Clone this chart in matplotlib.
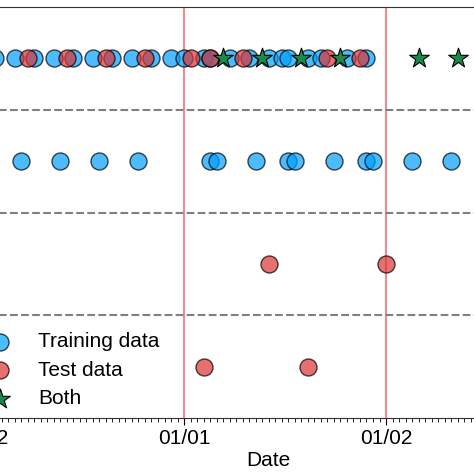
import numpy as np
import pandas as pd
import matplotlib
matplotlib.use("Agg")
import matplotlib.pyplot as plt
import matplotlib.dates as mdates

plt.rcParams['font.family'] = ['Liberation Sans', 'DejaVu Sans']

# rows from top (3) to bottom (0)
row_levels = [3, 2, 1, 0]

# training data per row
train_row3 = ['2019-12-03', '2019-12-06', '2019-12-09', '2019-12-12', '2019-12-15',
              '2019-12-18', '2019-12-21', '2019-12-24', '2019-12-27', '2019-12-30',
              '2020-01-01', '2020-01-04', '2020-01-05', '2020-01-08', '2020-01-11',
              '2020-01-14', '2020-01-16', '2020-01-17', '2020-01-20', '2020-01-22',
              '2020-01-26', '2020-01-29']
train_row2 = ['2019-12-07', '2019-12-13', '2019-12-19', '2019-12-25', '2020-01-05',
              '2020-01-06', '2020-01-12', '2020-01-17', '2020-01-18', '2020-01-24',
              '2020-01-29', '2020-01-30', '2020-02-05', '2020-02-11']

# test data per row
test_row3 = ['2019-12-08', '2019-12-14', '2019-12-20', '2019-12-26', '2020-01-02',
             '2020-01-05', '2020-01-10', '2020-01-23', '2020-01-28']
test_row1 = ['2020-01-14', '2020-02-01']
test_row0 = ['2020-01-04', '2020-01-20']

# both
both_row3 = ['2020-01-07', '2020-01-13', '2020-01-19', '2020-01-25', '2020-02-06',
             '2020-02-12']

month_lines = ['2020-01-01', '2020-02-01']
separators = [2.5, 1.5, 0.5]


def to_num(dates):
    return mdates.date2num(pd.to_datetime(dates))


def main():
    fig = plt.figure(figsize=(4.74, 4.74), dpi=100)
    # the reference is a crop of a wider figure: axes runs past both edges
    ax = fig.add_axes([-0.189, 0.1181, 1.512, 0.867])

    for d in month_lines:
        ax.axvline(to_num([d])[0], color='#f08a90', lw=1.5, zorder=1)
    for y in separators:
        ax.axhline(y, color='#808080', lw=1.5, ls='--', zorder=1)

    blue = '#00a0ff'
    red = '#dc3232'
    s = 150
    ax.scatter(to_num(train_row3), [3] * len(train_row3), s=s, color=blue,
               alpha=0.7, edgecolor='k', lw=1, zorder=3, label='Training data')
    ax.scatter(to_num(train_row2), [2] * len(train_row2), s=s, color=blue,
               alpha=0.7, edgecolor='k', lw=1, zorder=3)
    ax.scatter(to_num(test_row3), [3] * len(test_row3), s=s, color=red,
               alpha=0.7, edgecolor='k', lw=1, zorder=4, label='Test data')
    ax.scatter(to_num(test_row1), [1] * len(test_row1), s=s, color=red,
               alpha=0.7, edgecolor='k', lw=1, zorder=4)
    ax.scatter(to_num(test_row0), [0] * len(test_row0), s=s, color=red,
               alpha=0.7, edgecolor='k', lw=1, zorder=4)
    ax.scatter(to_num(both_row3), [3] * len(both_row3), s=220, marker='*',
               color='#1a8a4a', edgecolor='k', lw=0.8, zorder=5, label='Both')

    ax.set_xlim(to_num(['2019-11-20'])[0], to_num(['2020-03-09'])[0])
    ax.set_ylim(-0.5, 3.5)
    ax.set_yticks(row_levels)
    ax.set_yticklabels([])

    ax.xaxis.set_major_locator(mdates.MonthLocator())
    ax.xaxis.set_major_formatter(mdates.DateFormatter('%d/%m'))
    ax.xaxis.set_minor_locator(mdates.DayLocator())
    ax.tick_params(axis='x', which='major', length=5, labelsize=15, pad=3)
    ax.tick_params(axis='x', which='minor', length=3)
    ax.set_xlabel('Date', fontsize=15, labelpad=2)
    for sp in ax.spines.values():
        sp.set_color('#333333')

    ax.legend(loc='lower left', bbox_to_anchor=(0.085, 0.004), borderaxespad=0,
              frameon=False, fontsize=15, scatterpoints=1, labelspacing=0.45)

    fig.savefig('out.png', dpi=100)


if __name__ == "__main__":
    main()
